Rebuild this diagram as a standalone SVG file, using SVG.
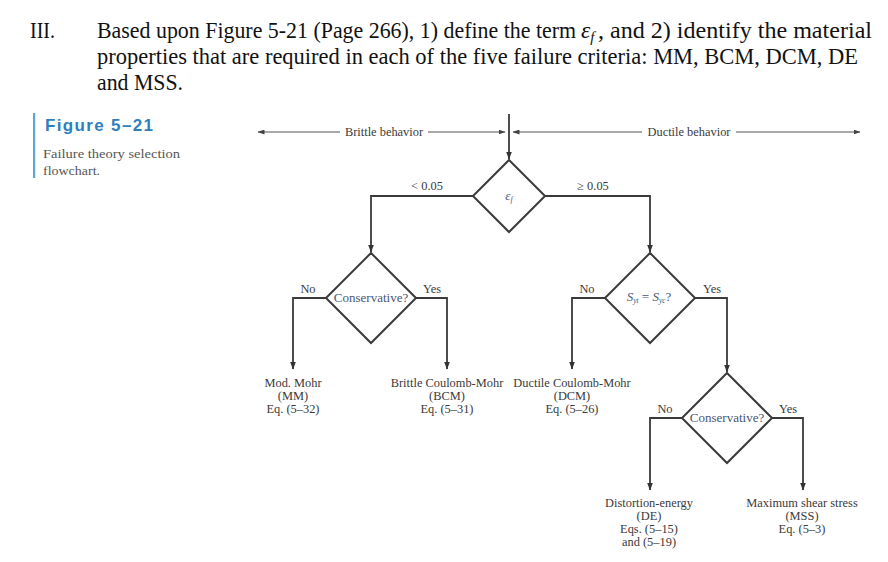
<svg xmlns="http://www.w3.org/2000/svg" width="888" height="562" viewBox="0 0 888 562">
<defs>
<marker id="ah" markerUnits="userSpaceOnUse" markerWidth="8" markerHeight="6" refX="7.5" refY="3" orient="auto">
<path d="M0,0 L8,3 L0,6 z" fill="#333"/>
</marker>
<marker id="ahs" markerUnits="userSpaceOnUse" markerWidth="7" markerHeight="5" refX="6.5" refY="2.5" orient="auto">
<path d="M0,0 L7,2.5 L0,5 z" fill="#444"/>
</marker>
<style>
.hd{font-family:"Liberation Serif",serif;font-size:23.5px;fill:#111}
.cap{font-family:"Liberation Serif",serif;font-size:13px;fill:#555}
.fig{font-family:"Liberation Sans",Arial,sans-serif;font-weight:bold;font-size:17px;fill:#2f7fbf}
.t{font-family:"Liberation Serif",serif;font-size:12.4px;fill:#3a3a3a;text-anchor:middle}
.q{font-family:"Liberation Serif",serif;font-size:13px;fill:#4a5775;text-anchor:middle}
.dia{fill:#fff;stroke:#3a3a3a;stroke-width:2}
.ln{fill:none;stroke:#3a3a3a;stroke-width:1.8}
.thin{fill:none;stroke:#555;stroke-width:1.2}
</style>
</defs>
<rect width="888" height="562" fill="#fff"/>

<g id="question">
<text class="hd" x="30" y="38" textLength="25" lengthAdjust="spacingAndGlyphs">III.</text>
<text class="hd" x="97" y="38" textLength="479" lengthAdjust="spacingAndGlyphs">Based upon Figure 5-21 (Page 266), 1) define the term</text>
<text class="hd" x="581" y="38" font-style="italic">ε<tspan font-size="15" dy="4">f</tspan></text>
<text class="hd" x="598" y="38" textLength="274" lengthAdjust="spacingAndGlyphs">, and 2) identify the material</text>
<text class="hd" x="97" y="64" textLength="761" lengthAdjust="spacingAndGlyphs">properties that are required in each of the five failure criteria: MM, BCM, DCM, DE</text>
<text class="hd" x="97" y="90" textLength="86" lengthAdjust="spacingAndGlyphs">and MSS.</text>
</g>

<g id="caption">
<rect x="33" y="113" width="2.2" height="65" fill="#5aa8d8"/>
<text class="fig" x="45" y="131" textLength="108" lengthAdjust="spacing">Figure 5–21</text>
<text class="cap" x="43" y="158" textLength="137" lengthAdjust="spacingAndGlyphs">Failure theory selection</text>
<text class="cap" x="43" y="175" textLength="57" lengthAdjust="spacingAndGlyphs">flowchart.</text>
</g>

<g id="connectors">
<path class="thin" d="M340,132 H258" marker-end="url(#ahs)"/>
<path class="thin" d="M428,132 H505" marker-end="url(#ahs)"/>
<path class="thin" d="M642,132 H513" marker-end="url(#ahs)"/>
<path class="thin" d="M736,132 H860" marker-end="url(#ahs)"/>
<path class="ln" d="M509,114 V159" marker-end="url(#ah)"/>
<path class="ln" d="M473,196 H371 V252" marker-end="url(#ah)"/>
<path class="ln" d="M545,196 H650 V252" marker-end="url(#ah)"/>
<path class="ln" d="M326,298 H293 V369" marker-end="url(#ah)"/>
<path class="ln" d="M416,298 H447 V369" marker-end="url(#ah)"/>
<path class="ln" d="M605,298 H572 V369" marker-end="url(#ah)"/>
<path class="ln" d="M695,298 H727 V372" marker-end="url(#ah)"/>
<path class="ln" d="M682,418 H650 V490" marker-end="url(#ah)"/>
<path class="ln" d="M772,418 H803 V490" marker-end="url(#ah)"/>
</g>

<g id="labels">
<text class="t" x="384" y="136">Brittle behavior</text>
<text class="t" x="689" y="136">Ductile behavior</text>
<text class="t" x="427" y="190">&lt; 0.05</text>
<text class="t" x="593" y="190">≥ 0.05</text>
<text class="t" x="308" y="293" font-size="13">No</text>
<text class="t" x="432" y="293" font-size="13">Yes</text>
<text class="t" x="587" y="293" font-size="13">No</text>
<text class="t" x="712" y="293" font-size="13">Yes</text>
<text class="t" x="665" y="413" font-size="13">No</text>
<text class="t" x="788" y="413" font-size="13">Yes</text>
</g>

<g id="d-strain">
<polygon class="dia" points="509,160 545,196 509,232 473,196"/>
<text class="q" x="509" y="200" font-style="italic" font-size="11">ε<tspan font-size="8" dy="2">f</tspan></text>
</g>

<g id="d-conservative-brittle">
<polygon class="dia" points="371,253 416,298 371,343 326,298"/>
<text class="q" x="371" y="302">Conservative?</text>
</g>

<g id="d-syt-syc">
<polygon class="dia" points="650,253 695,298 650,343 605,298"/>
<text class="q" x="649" y="301" font-size="11"><tspan font-style="italic">S</tspan><tspan font-size="7.5" dy="2" font-style="italic">yt</tspan><tspan dy="-2"> = </tspan><tspan font-style="italic">S</tspan><tspan font-size="7.5" dy="2" font-style="italic">yc</tspan><tspan dy="-2">?</tspan></text>
</g>

<g id="d-conservative-ductile">
<polygon class="dia" points="727,373 772,418 727,463 682,418"/>
<text class="q" x="727" y="422">Conservative?</text>
</g>

<g id="n-mm">
<text class="t" x="293" y="387">Mod. Mohr</text>
<text class="t" x="293" y="400">(MM)</text>
<text class="t" x="293" y="413">Eq. (5–32)</text>
</g>

<g id="n-bcm">
<text class="t" x="447" y="387">Brittle Coulomb-Mohr</text>
<text class="t" x="447" y="400">(BCM)</text>
<text class="t" x="447" y="413">Eq. (5–31)</text>
</g>

<g id="n-dcm">
<text class="t" x="572" y="387">Ductile Coulomb-Mohr</text>
<text class="t" x="572" y="400">(DCM)</text>
<text class="t" x="572" y="413">Eq. (5–26)</text>
</g>

<g id="n-de">
<text class="t" x="649" y="507">Distortion-energy</text>
<text class="t" x="649" y="520">(DE)</text>
<text class="t" x="649" y="533">Eqs. (5–15)</text>
<text class="t" x="649" y="546">and (5–19)</text>
</g>

<g id="n-mss">
<text class="t" x="802" y="507">Maximum shear stress</text>
<text class="t" x="802" y="520">(MSS)</text>
<text class="t" x="802" y="533">Eq. (5–3)</text>
</g>
</svg>
